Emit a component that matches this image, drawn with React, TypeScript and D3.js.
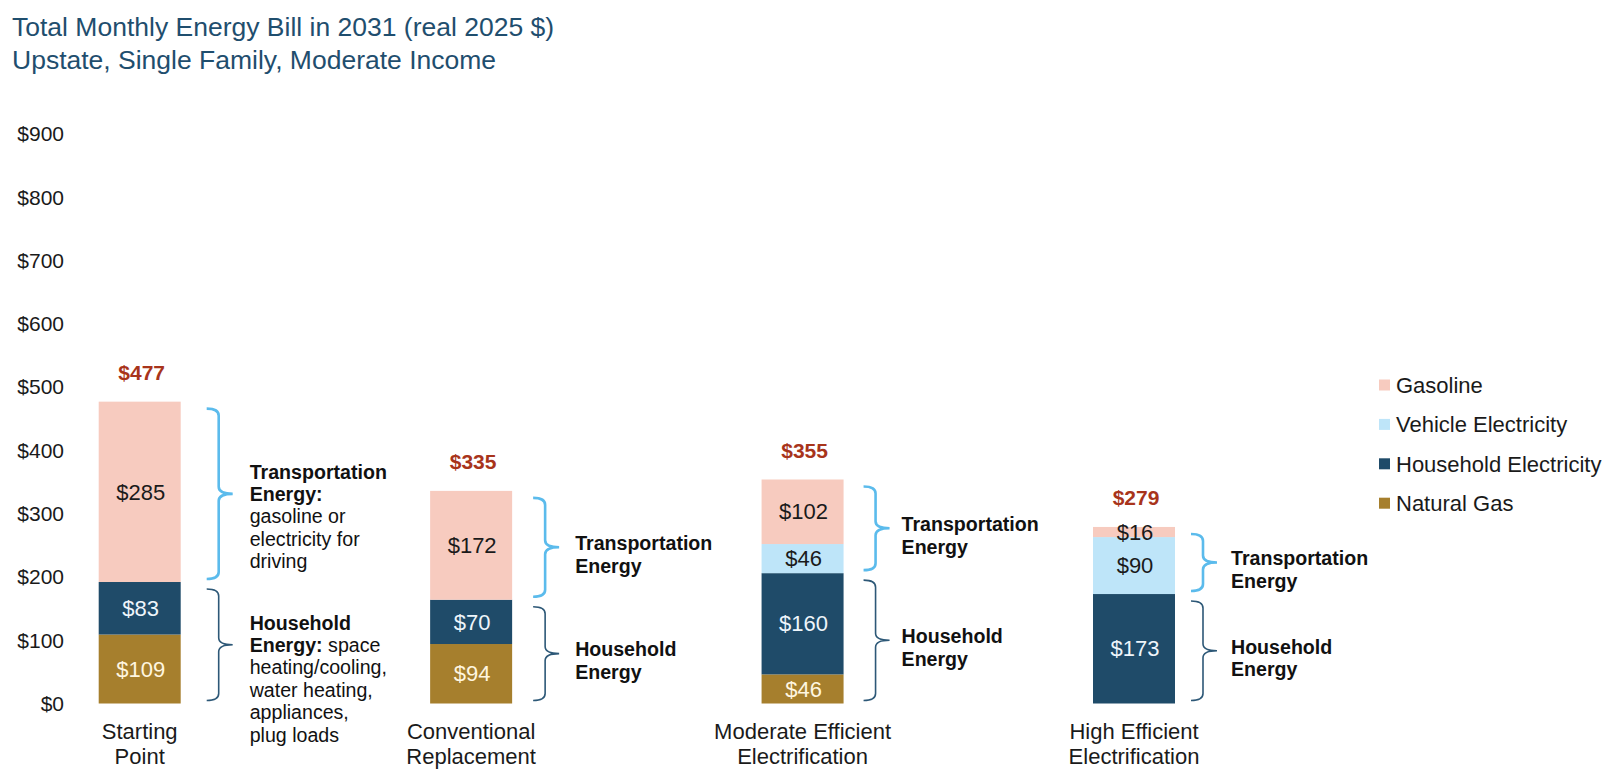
import * as d3 from 'd3';
import React from 'react';
import { useEffect, useRef } from 'react';

// Scenario categories and monthly bill components (real 2025 $)
const categories = [
    "Starting Point",
    "Conventional Replacement",
    "Moderate Efficient Electrification",
    "High Efficient Electrification",
];
const categoryLines = [
    ["Starting", "Point"],
    ["Conventional", "Replacement"],
    ["Moderate Efficient", "Electrification"],
    ["High Efficient", "Electrification"],
];
const naturalGas = [109, 94, 46, 0];
const householdElectricity = [83, 70, 160, 173];
const vehicleElectricity = [0, 0, 46, 90];
const gasoline = [285, 172, 102, 16];
const totals = [477, 335, 355, 279];
const yTicks = [0, 100, 200, 300, 400, 500, 600, 700, 800, 900];

// Bracket notes: each line is a list of [text, bold]
const transportNotes = [
    [[["Transportation", true]], [["Energy:", true]], [["gasoline or", false]], [["electricity for", false]], [["driving", false]]],
    [[["Transportation", true]], [["Energy", true]]],
    [[["Transportation", true]], [["Energy", true]]],
    [[["Transportation", true]], [["Energy", true]]],
];
const householdNotes = [
    [[["Household", true]], [["Energy:", true], [" space", false]], [["heating/cooling,", false]], [["water heating,", false]], [["appliances,", false]], [["plug loads", false]]],
    [[["Household", true]], [["Energy", true]]],
    [[["Household", true]], [["Energy", true]]],
    [[["Household", true]], [["Energy", true]]],
];

const seriesKeys = ["naturalGas", "householdElectricity", "vehicleElectricity", "gasoline"];
const seriesNames = {
    naturalGas: "Natural Gas",
    householdElectricity: "Household Electricity",
    vehicleElectricity: "Vehicle Electricity",
    gasoline: "Gasoline",
};
const colors = {
    naturalGas: "#A67F2D",
    householdElectricity: "#1F4B69",
    vehicleElectricity: "#BEE5F9",
    gasoline: "#F7CBBF",
};
const labelColors = {
    naturalGas: "#FFF6E0",
    householdElectricity: "#EEF5FB",
    vehicleElectricity: "#1a1a1a",
    gasoline: "#1a1a1a",
};

// layout
const width = 1612;
const height = 780;
const font = "'Liberation Sans', Arial, sans-serif";
const bracketX = [38, 33, 32, 28]; // vertical of brace, from bar's right edge
const noteX = [69, 63, 58, 56];

function bracePath(x, y0, y1) {
    const w = 12, tip = 14, r = 7;
    const ym = (y0 + y1) / 2;
    return `M${x - w},${y0} Q${x},${y0} ${x},${y0 + r} L${x},${ym - r} Q${x},${ym} ${x + tip},${ym}` +
        ` Q${x},${ym} ${x},${ym + r} L${x},${y1 - r} Q${x},${y1} ${x - w},${y1}`;
}

export default function App() {
    const svgRef = useRef(null);

    useEffect(() => {
        const svg = d3.select(svgRef.current);
        svg.selectAll("*").remove();

        const data = categories.map((c, i) => ({
            category: c,
            naturalGas: naturalGas[i],
            householdElectricity: householdElectricity[i],
            vehicleElectricity: vehicleElectricity[i],
            gasoline: gasoline[i],
        }));

        const x = d3.scaleBand().domain(categories).range([98.7, 1175]).paddingInner(0.7526).paddingOuter(0);
        const y = d3.scaleLinear().domain([0, 900]).range([703.5, 134]);

        const stacked = d3.stack().keys(seriesKeys)(data);

        svg.append("rect").attr("width", width).attr("height", height).attr("fill", "#fff");

        // Title
        const title = svg.append("g").attr("font-family", font).attr("fill", "#1F4E6E").attr("font-size", 26.5);
        title.append("text").attr("x", 12).attr("y", 27).attr("dy", "0.35em").text("Total Monthly Energy Bill in 2031 (real 2025 $)");
        title.append("text").attr("x", 12).attr("y", 60).attr("dy", "0.35em").text("Upstate, Single Family, Moderate Income");

        // y axis labels only
        svg.append("g").selectAll("text").data(yTicks).enter().append("text")
            .attr("x", 64).attr("y", d => y(d)).attr("dy", "0.35em")
            .attr("text-anchor", "end").attr("font-family", font).attr("font-size", 21).attr("fill", "#1a1a1a")
            .text(d => "$" + d);

        // stacked segments
        const layers = svg.append("g").selectAll("g").data(stacked).enter().append("g")
            .attr("fill", s => colors[s.key]);
        layers.selectAll("rect").data(s => s.map(d => ({ d, key: s.key }))).enter().append("rect")
            .attr("x", p => x(p.d.data.category))
            .attr("width", x.bandwidth())
            .attr("y", p => y(p.d[1]))
            .attr("height", p => y(p.d[0]) - y(p.d[1]));

        // segment value labels
        layers.selectAll("text").data(s => s.map(d => ({ d, key: s.key })).filter(p => p.d[1] - p.d[0] > 0))
            .enter().append("text")
            .attr("x", p => x(p.d.data.category) + x.bandwidth() / 2 + 1)
            .attr("y", p => (y(p.d[0]) + y(p.d[1])) / 2)
            .attr("dy", "0.35em")
            .attr("text-anchor", "middle").attr("font-family", font).attr("font-size", 22)
            .attr("fill", p => labelColors[p.key])
            .text(p => "$" + (p.d[1] - p.d[0]));

        // totals
        const tops = stacked[stacked.length - 1];
        svg.append("g").selectAll("text").data(categories).enter().append("text")
            .attr("x", c => x(c) + x.bandwidth() / 2 + 2)
            .attr("y", (c, i) => y(tops[i][1]) - 29)
            .attr("dy", "0.35em")
            .attr("text-anchor", "middle").attr("font-family", font).attr("font-size", 21)
            .attr("font-weight", "bold").attr("fill", "#A8341B")
            .text((c, i) => "$" + totals[i]);

        // category labels
        const cat = svg.append("g").attr("font-family", font).attr("font-size", 22).attr("fill", "#1a1a1a");
        categories.forEach((c, i) => {
            categoryLines[i].forEach((line, j) => {
                cat.append("text")
                    .attr("x", x(c) + x.bandwidth() / 2)
                    .attr("y", 731 + j * 25.5)
                    .attr("dy", "0.35em").attr("text-anchor", "middle")
                    .text(line);
            });
        });

        // braces with notes
        function drawNote(lines, tx, firstY) {
            const t = svg.append("text").attr("font-family", font).attr("font-size", 19.6).attr("fill", "#111");
            lines.forEach((line, j) => {
                line.forEach(([txt, bold], k) => {
                    const ts = t.append("tspan").text(txt)
                        .attr("font-weight", bold ? "bold" : "normal")
                        .style("white-space", "pre");
                    if (k === 0) ts.attr("x", tx).attr("y", firstY + j * 22.4).attr("dy", "0.35em");
                });
            });
        }

        categories.forEach((c, i) => {
            const right = x(c) + x.bandwidth();
            const bx = right + bracketX[i];
            const hhTop = y(naturalGas[i] + householdElectricity[i]);
            const trTop = y(naturalGas[i] + householdElectricity[i] + vehicleElectricity[i] + gasoline[i]);

            const tr0 = trTop + 7, tr1 = hhTop - 3;
            const hh0 = hhTop + 7, hh1 = y(0) - 3;

            svg.append("path").attr("d", bracePath(bx, tr0, tr1))
                .attr("fill", "none").attr("stroke", "#5BBBEC").attr("stroke-width", 2.6);
            svg.append("path").attr("d", bracePath(bx, hh0, hh1))
                .attr("fill", "none").attr("stroke", "#2D5877").attr("stroke-width", 1.6);

            const trMid = (tr0 + tr1) / 2, hhMid = (hh0 + hh1) / 2;
            const tLines = transportNotes[i], hLines = householdNotes[i];
            drawNote(tLines, right + noteX[i], trMid - 4 - (tLines.length > 2 ? 18 : 0));
            drawNote(hLines, right + noteX[i], hhMid - 4 - (hLines.length > 2 ? 18 : 0));
        });

        // legend
        const legendKeys = seriesKeys.slice().reverse();
        const legend = svg.append("g").selectAll("g").data(legendKeys).enter().append("g")
            .attr("transform", (k, i) => `translate(1379, ${385 + i * 39.4})`);
        legend.append("rect").attr("x", 0).attr("y", -5.5).attr("width", 11).attr("height", 11)
            .attr("fill", k => colors[k]);
        legend.append("text").attr("x", 17).attr("dy", "0.35em")
            .attr("font-family", font).attr("font-size", 22).attr("fill", "#1a1a1a")
            .text(k => seriesNames[k]);
    });

    return (
        <svg ref={svgRef} width={width} height={height}
            style={{ position: "fixed", left: 0, top: 0, display: "block" }}></svg>
    );
}
